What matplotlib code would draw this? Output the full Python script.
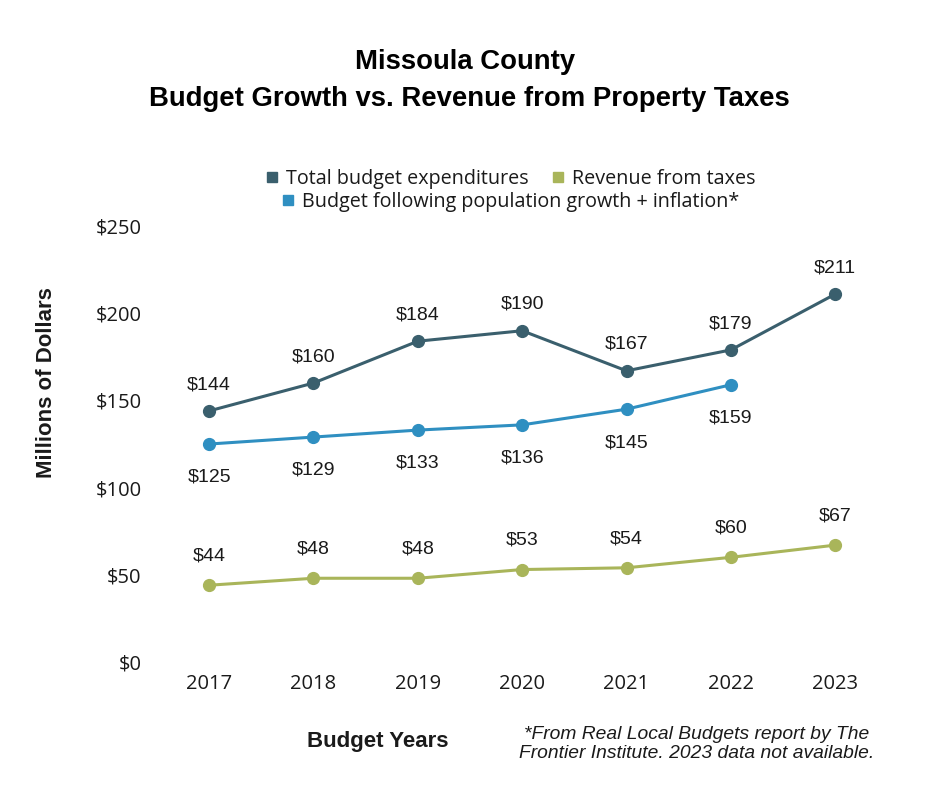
import matplotlib.pyplot as plt
from matplotlib.lines import Line2D

# данные
years = [2017, 2018, 2019, 2020, 2021, 2022, 2023]
total_budget = [144, 160, 184, 190, 167, 179, 211]
tax_revenue = [44, 48, 48, 53, 54, 60, 67]
pop_years = [2017, 2018, 2019, 2020, 2021, 2022]
pop_budget = [125, 129, 133, 136, 145, 159]
y_ticks = [0, 50, 100, 150, 200, 250]

C_TOTAL = '#3a5f6d'
C_TAX = '#a9b55a'
C_POP = '#2f8fc1'
TXT = '#1a1a1a'
NUM_FONT = ['Open Sans', 'DejaVu Sans']
HEAD_FONT = ['Liberation Sans', 'DejaVu Sans']

fig = plt.figure(figsize=(9.4, 7.88), dpi=100)
ax = fig.add_axes([0.167, 0.160, 0.777, 0.553])

ax.plot(years, total_budget, '-o', color=C_TOTAL, lw=2.2, ms=8.5, clip_on=False)
ax.plot(pop_years, pop_budget, '-o', color=C_POP, lw=2.2, ms=8.5, clip_on=False)
ax.plot(years, tax_revenue, '-o', color=C_TAX, lw=2.2, ms=8.5, clip_on=False)

# подписи значений (смещение в пунктах от точки)
for x, v in zip(years, total_budget):
    ax.annotate(f'${v}', (x, v), xytext=(0, 19), textcoords='offset points',
                ha='center', va='center', fontsize=14, color=TXT, family=HEAD_FONT)
for x, v in zip(pop_years, pop_budget):
    ax.annotate(f'${v}', (x, v), xytext=(0, -24), textcoords='offset points',
                ha='center', va='center', fontsize=14, color=TXT, family=HEAD_FONT)
for x, v in zip(years, tax_revenue):
    ax.annotate(f'${v}', (x, v), xytext=(0, 21), textcoords='offset points',
                ha='center', va='center', fontsize=14, color=TXT, family=HEAD_FONT)

ax.set_xlim(2016.5, 2023.5)
ax.set_ylim(0, 250)
ax.set_xticks(years)
ax.set_xticklabels([str(y) for y in years], family=NUM_FONT, fontsize=14.5, color=TXT)
ax.set_yticks(y_ticks)
ax.set_yticklabels([f'${t}' for t in y_ticks], family=NUM_FONT, fontsize=14.5, color=TXT)
ax.tick_params(length=0, axis='y', pad=11)
ax.tick_params(length=0, axis='x', pad=9)
for s in ax.spines.values():
    s.set_visible(False)

# заголовок
fig.text(0.495, 0.921, 'Missoula County', ha='center', va='center',
         fontsize=19.8, fontweight='bold', family=HEAD_FONT, color='black')
fig.text(0.499, 0.875, 'Budget Growth vs. Revenue from Property Taxes', ha='center', va='center',
         fontsize=19.8, fontweight='bold', family=HEAD_FONT, color='black')

# оси
fig.text(0.049, 0.514, 'Millions of Dollars', rotation=90, ha='center', va='center',
         fontsize=16, fontweight='bold', family=HEAD_FONT, color=TXT)
fig.text(0.402, 0.059, 'Budget Years', ha='center', va='center',
         fontsize=16, fontweight='bold', family=HEAD_FONT, color=TXT)

# сноска
fig.text(0.741, 0.056, '*From Real Local Budgets report by The\nFrontier Institute. 2023 data not available.',
         ha='center', va='center', fontsize=13.9, style='italic', family=HEAD_FONT,
         color=TXT, linespacing=1.1)

# легенда
def sq(c):
    return Line2D([], [], marker='s', color=c, ls='', ms=6.5)

leg1 = fig.legend([sq(C_TOTAL), sq(C_TAX)], ['Total budget expenditures', 'Revenue from taxes'],
                  loc='center', bbox_to_anchor=(0.543, 0.773), ncol=2, frameon=False,
                  prop={'family': NUM_FONT, 'size': 14.2}, handlelength=0.6, handletextpad=0.4,
                  columnspacing=1.2, labelcolor=TXT)
leg2 = fig.legend([sq(C_POP)], ['Budget following population growth + inflation*'],
                  loc='center', bbox_to_anchor=(0.543, 0.744), frameon=False,
                  prop={'family': NUM_FONT, 'size': 14.2}, handlelength=0.6, handletextpad=0.4,
                  labelcolor=TXT)

fig.savefig('out.png', dpi=100)
